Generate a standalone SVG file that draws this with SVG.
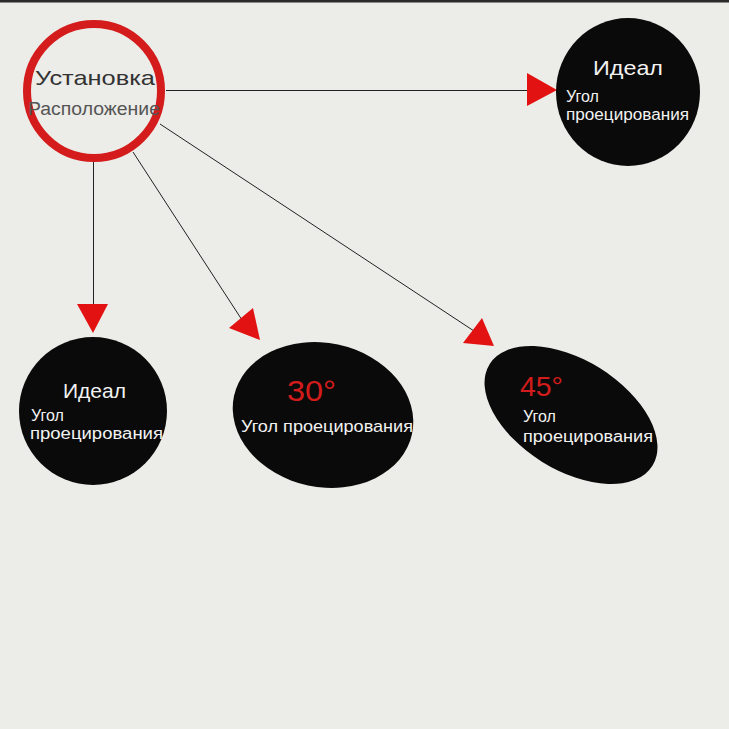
<svg xmlns="http://www.w3.org/2000/svg" width="729" height="729" viewBox="0 0 729 729">
<style>
.bg{fill:#ecece8}
.blob{fill:#0a0a0a}
.w{fill:#f2f2f2;font-family:"Liberation Sans",Arial,sans-serif}
.r{fill:#d21c1c;font-family:"Liberation Sans",Arial,sans-serif}
.conn line{stroke:#222;stroke-width:1}
.ah{fill:#e31212}
</style>
<rect class="bg" x="0" y="0" width="729" height="729"/>
<rect x="0" y="0" width="729" height="2.5" fill="#2a2a2a"/>
<g id="connectors" class="conn">
<line x1="166" y1="90.5" x2="528" y2="90.5"/>
<line x1="93.5" y1="162" x2="93.5" y2="305"/>
<line x1="133" y1="152" x2="242" y2="320"/>
<line x1="160" y1="124" x2="474" y2="331"/>
<polygon class="ah" points="527,73 557,90 527,106"/>
<polygon class="ah" points="77,304 108,304 93,333"/>
<polygon class="ah" points="229,328 253,308 260,340"/>
<polygon class="ah" points="463,343 482,318 494,346"/>
</g>
<g id="node-setup">
<circle cx="94" cy="91" r="67" fill="none" stroke="#d41c1c" stroke-width="8"/>
<text x="35" y="85" font-family="Liberation Sans,Arial,sans-serif" font-size="21" fill="#333" textLength="120" lengthAdjust="spacingAndGlyphs">Установка</text>
<text x="28" y="115" font-family="Liberation Sans,Arial,sans-serif" font-size="18" fill="#555" textLength="132" lengthAdjust="spacingAndGlyphs">Расположение</text>
</g>
<g id="node-ideal-top">
<ellipse class="blob" cx="628" cy="92" rx="72" ry="74"/>
<text class="w" x="593" y="75" font-size="21" textLength="70" lengthAdjust="spacingAndGlyphs">Идеал</text>
<text class="w" x="566" y="102" font-size="16">Угол</text>
<text class="w" x="566" y="120" font-size="16" textLength="123" lengthAdjust="spacingAndGlyphs">проецирования</text>
</g>
<g id="node-ideal-bottom">
<circle class="blob" cx="93" cy="411" r="74"/>
<text class="w" x="63" y="398" font-size="21" textLength="63" lengthAdjust="spacingAndGlyphs">Идеал</text>
<text class="w" x="31" y="421" font-size="16">Угол</text>
<text class="w" x="30" y="439" font-size="16" textLength="133" lengthAdjust="spacingAndGlyphs">проецирования</text>
</g>
<g id="node-30">
<ellipse class="blob" cx="323" cy="415" rx="91" ry="72" transform="rotate(12 323 415)"/>
<text class="r" x="287" y="401" font-size="29" textLength="49" lengthAdjust="spacingAndGlyphs">30°</text>
<text class="w" x="241" y="432" font-size="17" textLength="172" lengthAdjust="spacingAndGlyphs">Угол проецирования</text>
</g>
<g id="node-45">
<ellipse class="blob" cx="571" cy="415" rx="96" ry="55" transform="rotate(32 571 415)"/>
<text class="r" x="520" y="396" font-size="27" textLength="43" lengthAdjust="spacingAndGlyphs">45°</text>
<text class="w" x="523" y="422" font-size="16">Угол</text>
<text class="w" x="523" y="442" font-size="16" textLength="130" lengthAdjust="spacingAndGlyphs">проецирования</text>
</g>
</svg>
